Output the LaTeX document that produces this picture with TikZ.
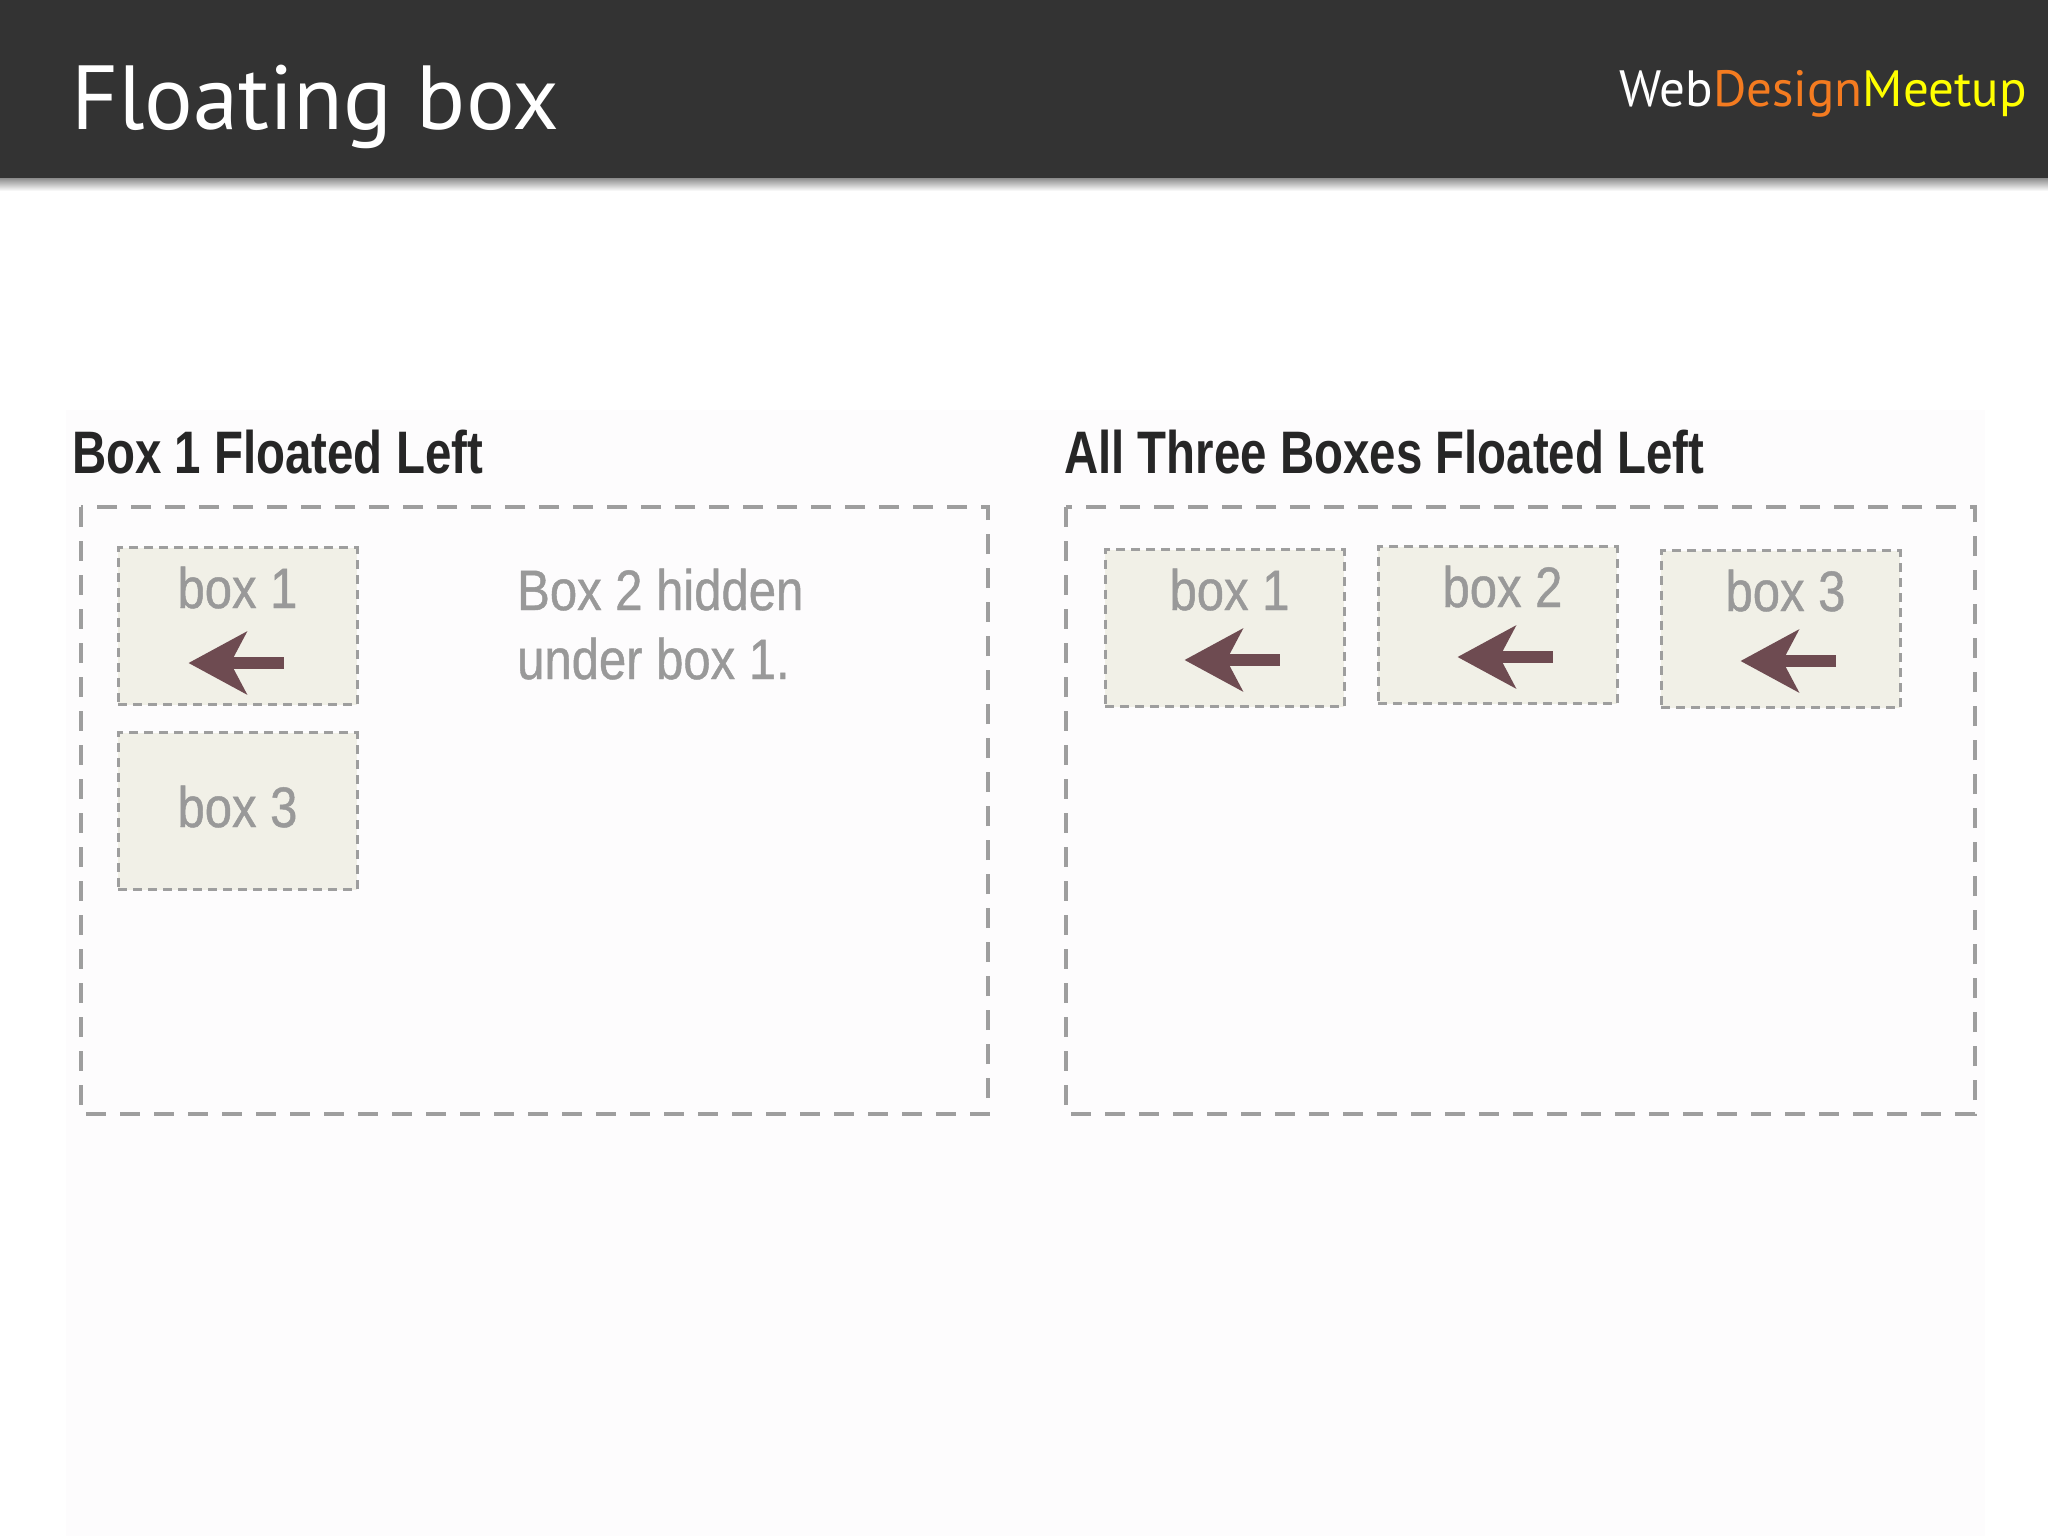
\documentclass[tikz,border=0pt]{standalone}
\usepackage{fontspec}
\setmainfont{PT Sans}
\newfontfamily\headfont{Liberation Sans Bold}[FakeStretch=0.79]
\newfontfamily\boxfont{Liberation Sans}[FakeStretch=0.86, FakeBold=0.8]
\usetikzlibrary{positioning,calc,arrows.meta}
\definecolor{barbg}{HTML}{333333}
\definecolor{wdmorange}{HTML}{F47B20}
\definecolor{wdmyellow}{HTML}{FFFF00}
\definecolor{dashgray}{HTML}{9E9E9E}
\definecolor{boxfill}{HTML}{F1F0E7}
\definecolor{labelgray}{HTML}{999999}
\definecolor{arrowbrown}{HTML}{6E4B51}
\definecolor{panelbg}{HTML}{FDFCFD}
\tikzset{
  container/.style={draw=dashgray, line width=4pt, dash pattern=on 20pt off 14pt},
  floatbox/.style={rectangle, draw=dashgray, fill=boxfill, line width=3pt,
    dash pattern=on 9pt off 6pt, minimum width=239pt, minimum height=157pt, inner sep=0pt},
  boxlabel/.style={inner sep=0pt, anchor=base, text=labelgray,
    font=\boxfont\fontsize{57}{69}\selectfont},
  heading/.style={inner sep=0pt, anchor=base west, text=black!85,
    font=\headfont\fontsize{60}{70}\selectfont},
  floatarrow/.style={draw=arrowbrown, line width=12pt,
    -{Stealth[length=58pt, width=62pt, inset=16pt]}}
}

\begin{document}
\begin{tikzpicture}[x=1pt, y=-1pt]
  \useasboundingbox (0,0) rectangle (2048,1536);
  \fill[white] (0,0) rectangle (2048,1536);
  \fill[panelbg] (66,410) rectangle (1985,1536);

  % header bar
  \fill[barbg] (0,0) rectangle (2048,178);
  \shade[top color=black!45, bottom color=white] (0,178) rectangle (2048,191);
  \node[anchor=base west, inner sep=0pt, text=white,
        font=\fontsize{91}{100}\selectfont] (Title) at (71,130) {Floating box};
  \node[anchor=base east, inner sep=0pt, font=\fontsize{51}{56}\selectfont] (Brand) at (2027,107)
    {{\color{white}Web}{\color{wdmorange}Design}{\color{wdmyellow}Meetup}};

  % left: box 1 floated
  \node[heading] (LeftHead) at (72,473) {Box 1 Floated Left};
  \draw[container] (81,507) rectangle (988,1114);
  \node[floatbox] (lb1) at (237.5,626) {};
  \node[floatbox] (lb3) at (237.5,811) {};
  \node[boxlabel] (lb1t) at ($(lb1.north)+(0,62)$) {box 1};
  \node[boxlabel] (lb3t) at ($(lb3.north)+(0,96)$) {box 3};
  \coordinate (lb1tail) at ($(lb1.center)+(46,37)$);
  \coordinate (lb1tip) at ($(lb1.center)+(-49,37)$);
  \draw[floatarrow] (lb1tail) -- (lb1tip);
  \node[inner sep=0pt, anchor=base west, text=labelgray, align=left,
        font=\boxfont\fontsize{57}{69}\selectfont] (Hidden) at (517,679)
    {Box 2 hidden\\under box 1.};

  % right: all three floated
  \node[heading] (RightHead) at (1064,473) {All Three Boxes Floated Left};
  \draw[container] (1066,507) rectangle (1975,1114);
  \node[floatbox] (rb1) at (1224.5,628) {};
  \node[floatbox, right=31pt of rb1, yshift=3pt] (rb2) {};
  \node[floatbox, right=41pt of rb2, yshift=-4pt] (rb3) {};
  \foreach \b/\t in {rb1/box 1, rb2/box 2, rb3/box 3}{
    \node[boxlabel] (\b t) at ($(\b.north)+(5,62)$) {\t};
    \coordinate (\b tail) at ($(\b.center)+(55,32)$);
    \coordinate (\b tip) at ($(\b.center)+(-40,32)$);
    \draw[floatarrow] (\b tail) -- (\b tip);
  }
\end{tikzpicture}
\end{document}
